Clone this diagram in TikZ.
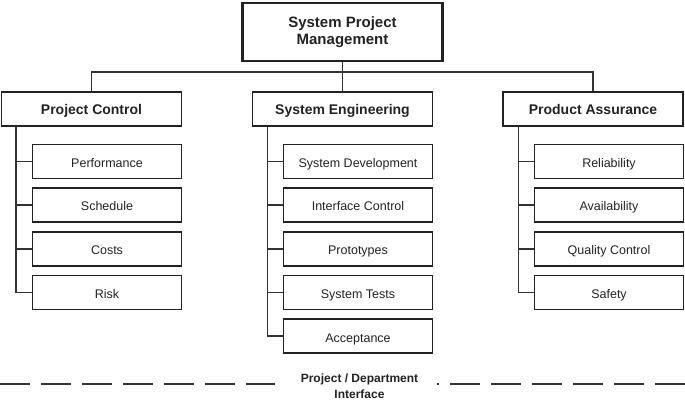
\documentclass[tikz,border=0pt]{standalone}
\usepackage{fontspec}
\setmainfont{Liberation Sans}
\usetikzlibrary{positioning,calc}
\definecolor{Ink}{HTML}{222222}
\definecolor{Wire}{HTML}{333333}

\begin{document}
\begin{tikzpicture}[x=1pt,y=-1pt,
  headbox/.style={draw=Ink,line width=2.8pt,minimum width=200pt,minimum height=58pt,align=center,font=\fontsize{15}{17.5}\selectfont\bfseries,text=Ink},
  groupbox/.style={draw=Ink,line width=1.3pt,minimum width=180pt,minimum height=34pt,text height=12pt,text depth=1.4pt,font=\fontsize{14}{16}\selectfont\bfseries,text=Ink},
  itembox/.style={draw=Ink,line width=1.3pt,minimum width=149pt,minimum height=34pt,text height=12.5pt,text depth=0.5pt,font=\fontsize{12.5}{14}\selectfont,text=Ink},
  wire/.style={Wire,line width=1.4pt}]
\useasboundingbox (0,0) rectangle (685,403);
% top of the tree
\node[headbox] (spm) at (342.5,32) {System Project\\Management};
\node[groupbox] (pc) at (91.5,109) {Project Control};
\node[groupbox] (se) at (342.5,109) {System Engineering};
\node[groupbox] (pa) at (593,109) {Product Assurance};
\coordinate (bus) at (342.5,72);
\draw[wire] (spm.south) -- (bus);
\draw[wire] (pc.north) |- (bus) -| (pa.north);
\draw[wire] (se.north) -- (bus);
% project control
\node[itembox] (perf) at (107,161.5) {Performance};
\node[itembox] (sched) at (107,205) {Schedule};
\node[itembox] (cost) at (107,249) {Costs};
\node[itembox] (risk) at (107,292.5) {Risk};
% system engineering
\node[itembox] (sdev) at (358,161.5) {System Development};
\node[itembox] (ifc) at (358,205) {Interface Control};
\node[itembox] (proto) at (358,249) {Prototypes};
\node[itembox] (stest) at (358,292.5) {System Tests};
\node[itembox] (accept) at (358,336) {Acceptance};
% product assurance
\node[itembox] (rel) at (609,161.5) {Reliability};
\node[itembox] (avail) at (609,205) {Availability};
\node[itembox] (qc) at (609,249) {Quality Control};
\node[itembox] (safe) at (609,292.5) {Safety};
% spines
\coordinate (pcs) at ([xshift=15pt]pc.south west);
\coordinate (ses) at ([xshift=15.5pt]se.south west);
\coordinate (pas) at ([xshift=16pt]pa.south west);
\draw[wire] (pcs) |- (risk.west);
\foreach \c in {perf,sched,cost} \draw[wire] (pcs |- \c.west) -- (\c.west);
\draw[wire] (ses) |- (accept.west);
\foreach \c in {sdev,ifc,proto,stest} \draw[wire] (ses |- \c.west) -- (\c.west);
\draw[wire] (pas) |- (safe.west);
\foreach \c in {rel,avail,qc} \draw[wire] (pas |- \c.west) -- (\c.west);
% interface line
\node[align=center,font=\fontsize{12}{15.5}\selectfont\bfseries,text=Ink,inner sep=0pt] (iface) at (359.5,386) {Project / Department\\Interface};
\draw[wire,dash pattern=on 30pt off 11pt] (0,384) -- (275,384);
\draw[wire,dash pattern=on 30pt off 11pt,dash phase=28pt] (437,384) -- (685,384);
\end{tikzpicture}
\end{document}
